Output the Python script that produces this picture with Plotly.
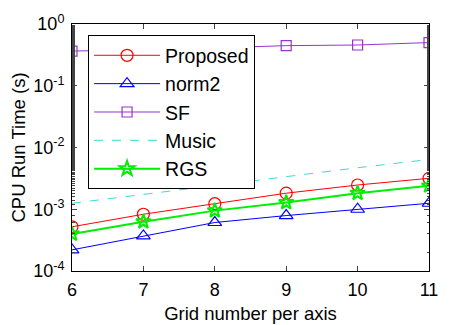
import plotly.graph_objects as go

grid = [6, 7, 8, 9, 10, 11]
proposed = [5.2e-4, 8.3e-4, 1.23e-3, 1.82e-3, 2.47e-3, 3.17e-3]
norm2 = [2.2e-4, 3.7e-4, 6.1e-4, 7.9e-4, 1.0e-3, 1.25e-3]
sf = [0.365, 0.38, 0.41, 0.446, 0.457, 0.50]
music = [1.25e-3, 1.75e-3, 2.45e-3, 3.4e-3, 4.7e-3, 6.4e-3]
rgs = [3.98e-4, 6.3e-4, 9.5e-4, 1.29e-3, 1.82e-3, 2.4e-3]

ytickvals = [1e-4, 1e-3, 1e-2, 1e-1, 1]
yticktext = ["10<sup>-4</sup>", "10<sup>-3</sup>", "10<sup>-2</sup>", "10<sup>-1</sup>", "10<sup>0</sup>"]

fig = go.Figure()
series = [
    ("Proposed", proposed, "#ff0000", "circle-open", 1, "solid", 12),
    ("norm2", norm2, "#0000ff", "triangle-up-open", 1, "solid", 12),
    ("SF", sf, "#9933cc", "square-open", 1, "solid", 10),
    ("Music", music, "#33dddd", None, 1, "dash", 0),
    ("RGS", rgs, "#00ee00", "star-open", 2, "solid", 11),
]
for i, (name, vals, col, sym, w, dash, ms) in enumerate(series):
    mode = "lines+markers" if sym else "lines"
    kw = dict(marker=dict(symbol=sym, size=ms, color=col, line=dict(width=1.2 if w == 1 else 2, color=col))) if sym else {}
    fig.add_trace(go.Scatter(x=grid, y=vals, name=name, mode=mode,
                             line=dict(color=col, width=w, dash=dash),
                             legendgroup=f"g{i}", **kw))

fig.update_layout(
    width=474, height=325,
    margin=dict(l=72, r=45, t=24, b=54, autoexpand=False),
    paper_bgcolor="white", plot_bgcolor="white",
    font=dict(family="Liberation Sans, Arial", size=18, color="black"),
    showlegend=True,
    legend=dict(x=0.045, y=0.955, xanchor="left", yanchor="top",
                bgcolor="white", bordercolor="black", borderwidth=1,
                font=dict(size=19.5), tracegroupgap=0, itemwidth=66),
    xaxis=dict(range=[6, 11], tickvals=grid, ticks="inside", ticklen=5,
               showline=True, linecolor="black", linewidth=1, mirror="allticks",
               showgrid=False, zeroline=False, ticklabelstandoff=2, automargin=False,
               title=dict(text="Grid number per axis", font=dict(size=18.5), standoff=8),
               tickfont=dict(size=18)),
    yaxis=dict(type="log", range=[-4, 0], tickvals=ytickvals, ticktext=yticktext,
               ticks="inside", ticklen=5,
               minor=dict(ticks="inside", ticklen=2.5, showgrid=False),
               showline=True, linecolor="black", linewidth=1, mirror="allticks",
               showgrid=False, zeroline=False, ticklabelstandoff=3, automargin=False,
               title=dict(text="CPU Run Time (s)", font=dict(size=18.5), standoff=2),
               tickfont=dict(size=18)),
)
fig.write_html("out.html")
